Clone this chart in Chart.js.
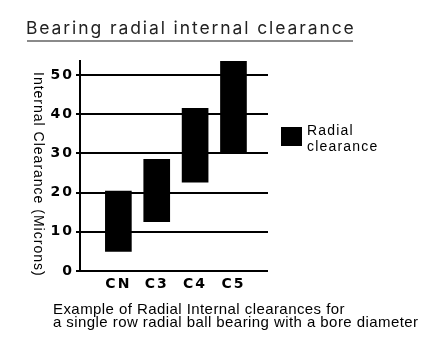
<!DOCTYPE html>
<html><head><meta charset="utf-8">
<script src="https://cdn.jsdelivr.net/npm/chart.js@4"></script>
<style>
html,body{margin:0;padding:0;background:#fff;}
#wrap{position:relative;width:440px;height:342px;overflow:hidden;background:#fff;}
canvas{position:absolute;left:0;top:0;}
.t{position:absolute;white-space:nowrap;font-family:"Liberation Sans",Arial,sans-serif;color:#000;}
#title{left:26px;top:17px;font-family:Inter,"Liberation Sans",sans-serif;font-size:17.5px;letter-spacing:1.9px;color:#222;line-height:normal;}
#uline{position:absolute;left:27px;top:40px;width:326px;height:1.5px;background:#8a8a8a;}
#ytitle{left:31px;top:72px;writing-mode:vertical-rl;font-size:14px;letter-spacing:1px;}
#legbox{position:absolute;left:281px;top:127px;width:21px;height:19px;background:#000;}
#legtxt{left:307px;top:122px;font-size:14px;line-height:16px;letter-spacing:1.2px;}
#cap{left:53px;top:302px;font-size:15px;line-height:13px;letter-spacing:0.43px;}
</style></head>
<body>
<div id="wrap">
<canvas id="c" width="440" height="342"></canvas>
<div class="t" id="title">Bearing radial internal clearance</div>
<div id="uline"></div>
<div class="t" id="ytitle">Internal Clearance (Microns)</div>
<div id="legbox"></div>
<div class="t" id="legtxt">Radial<br>clearance</div>
<div class="t" id="cap">Example of Radial Internal clearances for<br>a single row radial ball bearing with a bore diameter</div>
</div>
<script>
const categories = ['CN', 'C3', 'C4', 'C5'];
const positions = [1, 2, 3, 4];
const lowValues = [5, 12.6, 22.7, 30];
const highValues = [20.4, 28.5, 41.5, 53.6];
const yTicks = [0, 10, 20, 30, 40, 50];
const seriesName = 'Radial clearance';

const tickFont = {family: '"DejaVu Sans", sans-serif', size: 14, weight: 'bold'};

new Chart(document.getElementById('c').getContext('2d'), {
  type: 'bar',
  data: {
    datasets: [{
      label: seriesName,
      data: positions.map((p, i) => ({x: p, y: [lowValues[i], highValues[i]]})),
      backgroundColor: '#000',
      borderWidth: 0,
      borderSkipped: false,
      barThickness: 26
    }]
  },
  options: {
    responsive: false,
    animation: false,
    devicePixelRatio: 1,
    layout: {padding: {left: 0, right: 172, top: 61, bottom: 51}},
    plugins: {legend: {display: false}, tooltip: {enabled: false}},
    scales: {
      x: {
        type: 'linear', min: 0, max: 4.9, offset: false,
        grid: {display: false, drawTicks: false, offset: false},
        border: {display: false},
        afterBuildTicks(s) { s.ticks = positions.map(v => ({value: v})); },
        ticks: {
          callback: (v) => { const k = positions.indexOf(v); return k >= 0 ? categories[k] : ''; },
          font: tickFont, color: '#000', padding: 5, maxRotation: 0, autoSkip: false
        },
        afterFit(s) { s.height = 20; }
      },
      y: {
        min: 0, max: 53.6,
        afterBuildTicks(s) { s.ticks = yTicks.map(v => ({value: v})); },
        grid: {color: '#000', lineWidth: 2, tickLength: 4},
        border: {display: true, color: '#000', width: 2},
        ticks: {font: tickFont, color: '#000', padding: 2},
        afterFit(s) { s.width = 80; }
      }
    }
  },
  plugins: [{id: 'spacing', beforeDraw(c) { c.ctx.letterSpacing = '2px'; }}]
});
</script>
</body></html>
